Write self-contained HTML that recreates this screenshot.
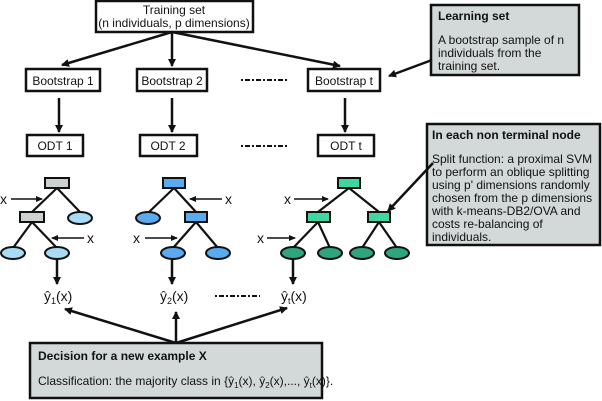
<!DOCTYPE html>
<html><head><meta charset="utf-8"><style>
html,body{margin:0;padding:0;background:#fff;}
svg{display:block;font-family:"Liberation Sans",sans-serif;}
</style></head><body>
<svg width="602" height="401" viewBox="0 0 602 401" xmlns="http://www.w3.org/2000/svg">
<defs>
<marker id="a" markerWidth="8" markerHeight="8" refX="7" refY="4" orient="auto" markerUnits="userSpaceOnUse">
<path d="M0,0 L8,4 L0,8 z" fill="#111"/></marker>
<marker id="s" markerWidth="7" markerHeight="6" refX="6" refY="3" orient="auto" markerUnits="userSpaceOnUse">
<path d="M0,0 L7,3 L0,6 z" fill="#111"/></marker>
</defs>
<g stroke="#111" stroke-width="2.5" fill="#fff">
<rect x="96" y="1" width="157" height="31"/>
<rect x="26" y="69" width="74" height="22"/>
<rect x="137" y="69" width="70" height="22"/>
<rect x="308" y="69" width="72" height="22"/>
<rect x="27" y="135" width="56" height="21"/>
<rect x="140" y="135" width="57" height="21"/>
<rect x="318" y="135" width="56" height="21"/>
</g>
<g stroke="#111" stroke-width="2.5" fill="#d3d8d8">
<rect x="431" y="5" width="148" height="70"/>
<rect x="427" y="124" width="173" height="121"/>
<rect x="30" y="343" width="292" height="55"/>
</g>
<g font-size="12" text-anchor="middle" fill="#111">
<text x="174" y="14">Training set</text>
<text x="174" y="27">(n individuals, p dimensions)</text>
<text x="63" y="85">Bootstrap 1</text>
<text x="172" y="85">Bootstrap 2</text>
<text x="344" y="85">Bootstrap t</text>
<text x="55" y="150">ODT 1</text>
<text x="168" y="150">ODT 2</text>
<text x="346" y="150">ODT t</text>
</g>
<g font-size="12" fill="#111">
<text x="438" y="20" font-weight="bold">Learning set</text>
<text x="438" y="44">A bootstrap sample of n</text>
<text x="438" y="57">individuals from the</text>
<text x="438" y="70">training set.</text>
<text x="432" y="139" font-weight="bold">In each non terminal node</text>
<text x="432" y="163">Split function: a proximal SVM</text>
<text x="432" y="176">to perform an oblique splitting</text>
<text x="432" y="189">using p' dimensions randomly</text>
<text x="432" y="202">chosen from the p dimensions</text>
<text x="432" y="215">with k-means-DB2/OVA and</text>
<text x="432" y="228">costs re-balancing of</text>
<text x="432" y="241">individuals.</text>
<text x="38" y="360" font-weight="bold">Decision for a new example X</text>
<text x="38" y="385">Classification: the majority class in {ŷ<tspan font-size="8" dy="3">1</tspan><tspan dy="-3">(x), ŷ</tspan><tspan font-size="8" dy="3">2</tspan><tspan dy="-3">(x),..., ŷ</tspan><tspan font-size="8" dy="3">t</tspan><tspan dy="-3">(x)}.</tspan></text>
</g>
<g stroke="#111" stroke-width="2.5" fill="none">
<line x1="172" y1="32" x2="62" y2="65" marker-end="url(#a)"/>
<line x1="172" y1="32" x2="172" y2="66" marker-end="url(#a)"/>
<line x1="172" y1="32" x2="340" y2="66" marker-end="url(#a)"/>
<line x1="59" y1="98" x2="59" y2="132" marker-end="url(#a)"/>
<line x1="172" y1="98" x2="172" y2="132" marker-end="url(#a)"/>
<line x1="345" y1="98" x2="345" y2="132" marker-end="url(#a)"/>
<line x1="432" y1="60" x2="389" y2="76" marker-end="url(#a)"/>
<line x1="433" y1="163" x2="388" y2="211" marker-end="url(#a)"/>
<line x1="57" y1="260" x2="57" y2="284" marker-end="url(#a)"/>
<line x1="172" y1="260" x2="172" y2="284" marker-end="url(#a)"/>
<line x1="293" y1="260" x2="293" y2="284" marker-end="url(#a)"/>
<line x1="176" y1="343" x2="65" y2="309" marker-end="url(#a)"/>
<line x1="176" y1="343" x2="176" y2="312" marker-end="url(#a)"/>
<line x1="176" y1="343" x2="287" y2="308" marker-end="url(#a)"/>
</g>
<g stroke="#111" stroke-width="2" stroke-dasharray="2,2 5,2">
<line x1="241" y1="80" x2="288" y2="80"/>
<line x1="241" y1="146" x2="288" y2="146"/>
<line x1="215" y1="296" x2="260" y2="296"/>
</g>
<g stroke="#111" stroke-width="2.2">
<line x1="57" y1="188" x2="32" y2="212"/><line x1="57" y1="188" x2="80" y2="212"/>
<line x1="32" y1="222" x2="13" y2="248"/><line x1="32" y1="222" x2="57" y2="248"/>
<line x1="174" y1="188" x2="148" y2="213"/><line x1="174" y1="188" x2="196" y2="212"/>
<line x1="196" y1="222" x2="173" y2="248"/><line x1="196" y1="222" x2="218" y2="248"/>
<line x1="349" y1="188" x2="318" y2="212"/><line x1="349" y1="188" x2="379" y2="212"/>
<line x1="318" y1="222" x2="293" y2="248"/><line x1="318" y1="222" x2="330" y2="248"/>
<line x1="379" y1="222" x2="362" y2="248"/><line x1="379" y1="222" x2="397" y2="248"/>
</g>
<g stroke="#111" stroke-width="2">
<rect x="45" y="178" width="24" height="10" fill="#ccd0cf"/>
<rect x="20" y="212" width="24" height="10" fill="#ccd0cf"/>
<ellipse cx="80" cy="218" rx="12" ry="6" fill="#a8dcf5"/>
<ellipse cx="13" cy="253" rx="12" ry="6" fill="#a8dcf5"/>
<ellipse cx="57" cy="253" rx="12" ry="6" fill="#a8dcf5"/>
<rect x="163" y="178" width="22" height="10" fill="#5aaaf0"/>
<rect x="185" y="212" width="22" height="10" fill="#5aaaf0"/>
<ellipse cx="148" cy="218" rx="12" ry="6" fill="#5aaaf0"/>
<ellipse cx="173" cy="253" rx="12" ry="6" fill="#5aaaf0"/>
<ellipse cx="218" cy="253" rx="12" ry="6" fill="#5aaaf0"/>
<rect x="338" y="178" width="22" height="10" fill="#3fd6a0"/>
<rect x="307" y="212" width="23" height="10" fill="#3fd6a0"/>
<rect x="368" y="212" width="22" height="10" fill="#3fd6a0"/>
<ellipse cx="293" cy="253" rx="12" ry="6" fill="#2ea57a"/>
<ellipse cx="330" cy="253" rx="12" ry="6" fill="#2ea57a"/>
<ellipse cx="362" cy="253" rx="12" ry="6" fill="#2ea57a"/>
<ellipse cx="397" cy="253" rx="12" ry="6" fill="#2ea57a"/>
</g>
<g stroke="#111" stroke-width="1.5">
<line x1="11" y1="199" x2="42" y2="199" marker-end="url(#s)"/>
<line x1="84" y1="238" x2="52" y2="238" marker-end="url(#s)"/>
<line x1="222" y1="199" x2="190" y2="199" marker-end="url(#s)"/>
<line x1="145" y1="238" x2="177" y2="238" marker-end="url(#s)"/>
<line x1="294" y1="199" x2="328" y2="199" marker-end="url(#s)"/>
<line x1="267" y1="238" x2="295" y2="238" marker-end="url(#s)"/>
</g>
<g font-size="14" fill="#111">
<text x="0" y="204">x</text><text x="87" y="243">x</text>
<text x="225" y="204">x</text><text x="133" y="243">x</text>
<text x="284" y="204">x</text><text x="257" y="243">x</text>
<text x="44" y="301">ŷ<tspan font-size="9" dy="3">1</tspan><tspan dy="-3">(x)</tspan></text>
<text x="160" y="301">ŷ<tspan font-size="9" dy="3">2</tspan><tspan dy="-3">(x)</tspan></text>
<text x="281" y="301">ŷ<tspan font-size="9" dy="3">t</tspan><tspan dy="-3">(x)</tspan></text>
</g>
</svg>
</body></html>
